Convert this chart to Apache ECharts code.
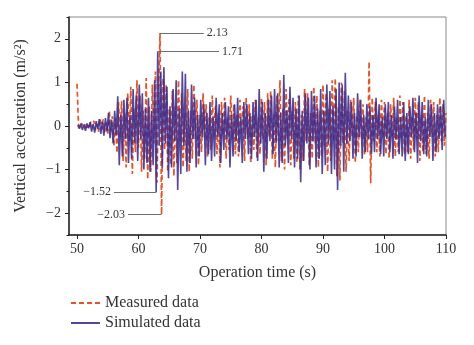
<!DOCTYPE html>
<html>
<head>
<meta charset="utf-8">
<script src="https://cdn.jsdelivr.net/npm/echarts@6/dist/echarts.min.js"></script>
<style>
  html, body { margin: 0; padding: 0; background: #fff; }
  #chart { width: 474px; height: 345px; }
</style>
</head>
<body>
<div id="chart"></div>
<script>
// Sampling of both records: start times and step (s)
const measuredStart = 50;
const simulatedStart = 50.125;
const tStep = 0.25;

// Measured vertical acceleration (m/s^2), one value per step
const measured = [
  0.97, 0.03, -0.05, 0.06, -0.02, 0.04, -0.08, 0.01,
  -0.06, 0.10, -0.03, 0.12, -0.10, 0.04, -0.13, 0.18,
  -0.08, 0.15, -0.14, 0.08, -0.20, 0.35, -0.12, 0.22,
  -0.45, 0.18, -0.62, 0.55, -0.25, 0.58, -0.80, 0.30,
  -0.95, 0.75, -0.35, 0.90, -1.10, 0.40, -0.60, 1.05,
  -0.50, 0.70, -1.05, 0.35, -0.75, 1.10, -1.22, 0.45,
  -1.05, 0.95, -0.40, 1.25, -1.30, 0.60, 2.13, -2.03,
  1.10, -0.55, 0.95, -1.05, 0.40, -0.90, 0.80, -1.15,
  0.45, -0.85, 1.05, -0.35, 0.75, -0.95, 0.30, -0.80,
  0.85, -1.05, 0.35, -0.75, 0.95, -0.30, 0.60, -0.90,
  0.25, -0.60, 0.75, -0.30, 0.50, -0.70, 0.20, -0.55,
  0.70, -0.25, 0.45, -0.65, 0.30, -0.95, 0.55, -0.20,
  0.65, -0.75, 0.20, -0.55, 0.70, -0.30, 0.50, -0.65,
  0.25, -0.70, 0.60, -0.20, 0.45, -0.80, 0.65, -0.30,
  0.50, -0.85, 0.25, -0.55, 0.60, -0.75, 0.20, -0.65,
  0.65, -0.30, 0.55, -0.90, 0.75, -0.25, 0.80, -0.75,
  0.30, -0.95, 0.70, -0.35, 1.05, -0.80, 0.40, -1.00,
  0.85, -0.30, 0.65, -0.90, 0.35, -0.75, 0.55, -0.85,
  0.70, -1.00, 0.25, -0.80, 0.85, -0.35, 0.75, -0.90,
  0.30, -0.75, 0.90, -0.40, 0.70, -0.95, 0.35, -0.70,
  0.95, -0.45, 0.75, -1.05, 0.40, -0.80, 1.05, -0.35,
  1.10, -1.15, 0.45, -1.25, 1.00, -0.40, 0.80, -1.05,
  0.35, -0.80, 0.60, -0.25, 0.65, -0.85, 0.25, -0.60,
  0.60, -0.30, 0.50, -0.65, 0.20, -0.60, 1.48, -1.31,
  0.65, -0.35, 0.55, -0.60, 0.25, -0.70, 0.60, -0.25,
  0.55, -0.65, 0.30, -0.75, 0.50, -0.25, 0.65, -0.70,
  0.20, -0.60, 0.70, -0.30, 0.55, -0.65, 0.25, -0.60,
  0.60, -0.75, 0.20, -0.55, 0.65, -0.30, 0.55, -0.80,
  0.25, -0.60, 0.70, -0.65, 0.30, -0.75, 0.60, -0.25,
  0.55, -0.70, 0.25, -0.60, 0.65, -0.35, 0.50, -0.45,
  0.30
];

// Simulated vertical acceleration (m/s^2), same step, offset start
const simulated = [
  0.02, -0.06, 0.05, -0.09, 0.03, -0.11, 0.06, -0.05,
  0.09, -0.13, 0.04, -0.15, 0.11, -0.07, 0.16, -0.18,
  0.10, -0.22, 0.18, -0.12, 0.30, -0.28, 0.15, -0.40,
  0.35, -0.20, 0.68, -0.90, 0.25, -0.70, 0.60, -0.30,
  0.65, -0.85, 0.25, -0.75, 0.85, -0.40, 0.70, -0.80,
  0.95, -0.30, 0.75, -1.00, 0.40, -0.85, 0.65, -1.05,
  0.35, -0.90, 1.05, -1.52, 1.71, -0.45, 1.25, -0.95,
  1.35, -0.40, 0.90, -1.20, 0.45, -0.95, 0.85, -0.35,
  1.05, -1.47, 0.40, -1.10, 1.25, -0.45, 1.20, -1.05,
  0.35, -0.85, 0.95, -0.30, 0.65, -0.95, 0.25, -0.70,
  0.60, -0.25, 0.50, -0.90, 0.30, -0.65, 0.55, -0.80,
  0.20, -0.70, 0.65, -0.25, 0.50, -0.85, 0.30, -0.55,
  0.55, -0.30, 0.45, -0.95, 0.25, -0.70, 0.50, -0.35,
  0.65, -0.60, 0.20, -0.85, 0.55, -0.30, 0.50, -0.65,
  0.30, -0.75, 0.55, -0.25, 0.60, -0.80, 0.85, -0.40,
  0.55, -1.05, 0.30, -0.75, 0.60, -0.35, 0.70, -0.65,
  0.85, -0.40, 0.75, -0.95, 0.30, -0.85, 1.17, -0.45,
  0.35, -0.85, 0.90, -0.30, 0.65, -0.95, 0.40, -0.75,
  0.70, -1.29, 0.35, -0.80, 0.75, -0.40, 0.65, -1.00,
  0.80, -0.35, 0.70, -0.95, 0.40, -0.75, 0.85, -1.10,
  0.35, -0.90, 0.95, -0.40, 0.80, -1.10, 0.45, -1.00,
  0.85, -1.47, 1.00, -0.45, 0.95, -1.05, 1.22, -0.40,
  0.70, -0.35, 0.55, -0.75, 0.30, -0.70, 0.75, -0.25,
  0.60, -0.75, 0.25, -0.60, 0.50, -0.30, 0.45, -0.65,
  0.25, -0.60, 0.65, -0.30, 0.50, -0.65, 0.20, -0.70,
  0.50, -0.30, 0.55, -0.60, 0.25, -0.75, 0.45, -0.30,
  0.60, -0.65, 0.20, -0.70, 0.55, -0.80, 0.30, -0.65,
  0.45, -0.25, 0.65, -0.60, 0.30, -0.85, 0.70, -0.35,
  0.55, -0.65, 0.20, -0.70, 0.60, -0.25, 0.50, -0.80,
  0.30, -0.60, 0.50, -0.30, 0.45, -0.55, 0.60, -0.25
];

// Axis ticks
const xMajorTicks = [50, 60, 70, 80, 90, 100, 110];
const xMinorTicks = [55, 65, 75, 85, 95, 105];
const yMajorTicks = [-2, -1, 0, 1, 2];
const yMinorTicks = [-2.5, -1.5, -0.5, 0.5, 1.5, 2.5];

// Peak call-outs: sample index in its series and where the leader line ends (s)
const measuredPeaks = [
  { index: 54, lineEnd: 70.6 },
  { index: 55, lineEnd: 58.3 }
];
const simulatedPeaks = [
  { index: 52, lineEnd: 73.1 },
  { index: 51, lineEnd: 56.0 }
];

const toPairs = (arr, t0) => arr.map((v, i) => [t0 + i * tStep, v]);
const fmt = v => (v < 0 ? '\u2212' + Math.abs(v) : String(v));

const serif = '"Liberation Serif", "DejaVu Serif", serif';
const textColor = '#333';
const orange = '#e2542a';
const blue = '#3a2c90';

function calloutLines(arr, t0, peaks) {
  return peaks.map(p => {
    const t = t0 + p.index * tStep;
    const v = arr[p.index];
    return [
      { coord: [t, v], value: v },
      { coord: [p.lineEnd, v], label: { formatter: () => fmt(v) } }
    ];
  });
}

const markLineStyle = {
  silent: true,
  symbol: ['none', 'none'],
  animation: false,
  lineStyle: { color: '#6e6e6e', width: 1, type: 'solid' },
  label: {
    show: true, position: 'end', distance: 3,
    color: textColor, fontFamily: serif, fontSize: 12
  },
  emphasis: { disabled: true }
};

const chart = echarts.init(document.getElementById('chart'), null, { renderer: 'canvas' });

chart.setOption({
  animation: false,
  backgroundColor: '#fff',
  grid: {
    left: 69, right: 28, top: 17, bottom: 110,
    show: true, borderColor: '#8a8a8a', borderWidth: 1
  },
  legend: {
    orient: 'vertical',
    left: 65, top: 290,
    itemWidth: 29, itemHeight: 10, itemGap: 4,
    itemStyle: { opacity: 0 },
    textStyle: { fontFamily: serif, fontSize: 16, color: textColor },
    data: ['Measured data', 'Simulated data']
  },
  xAxis: [
    {
      type: 'value', min: 48.7, max: 110,
      name: 'Operation time (s)', nameLocation: 'middle', nameGap: 30,
      nameTextStyle: { fontFamily: serif, fontSize: 16, color: textColor },
      axisLine: { show: true, onZero: false, lineStyle: { color: '#222', width: 1.5 } },
      axisTick: { show: true, length: 4, customValues: xMajorTicks, lineStyle: { color: '#222' } },
      axisLabel: {
        customValues: xMajorTicks, margin: 7,
        fontFamily: serif, fontSize: 14, color: textColor
      },
      splitLine: { show: false }
    },
    {
      type: 'value', min: 48.7, max: 110, position: 'bottom',
      axisLine: { show: false },
      axisTick: { show: true, length: 2.5, customValues: xMinorTicks, lineStyle: { color: '#222' } },
      axisLabel: { show: false },
      splitLine: { show: false }
    }
  ],
  yAxis: [
    {
      type: 'value', min: -2.5, max: 2.5,
      name: 'Vertical acceleration (m/s\u00B2)', nameLocation: 'middle', nameGap: 40,
      nameTextStyle: { fontFamily: serif, fontSize: 16, color: textColor },
      axisLine: { show: true, onZero: false, lineStyle: { color: '#222', width: 1.5 } },
      axisTick: { show: true, length: 4, customValues: yMajorTicks, lineStyle: { color: '#222' } },
      axisLabel: {
        customValues: yMajorTicks, margin: 8,
        fontFamily: serif, fontSize: 14, color: textColor,
        formatter: v => fmt(v)
      },
      splitLine: { show: false }
    },
    {
      type: 'value', min: -2.5, max: 2.5, position: 'left',
      axisLine: { show: false },
      axisTick: { show: true, length: 2.5, customValues: yMinorTicks, lineStyle: { color: '#222' } },
      axisLabel: { show: false },
      splitLine: { show: false }
    }
  ],
  series: [
    {
      name: 'Measured data',
      type: 'line',
      data: toPairs(measured, measuredStart),
      symbol: 'none',
      color: orange,
      lineStyle: { color: orange, width: 1.7, type: [5, 3] },
      markLine: Object.assign({ data: calloutLines(measured, measuredStart, measuredPeaks) }, markLineStyle),
      z: 2
    },
    {
      name: 'Simulated data',
      type: 'line',
      data: toPairs(simulated, simulatedStart),
      symbol: 'none',
      color: blue,
      lineStyle: { color: blue, width: 1.6, opacity: 0.88 },
      markLine: Object.assign({ data: calloutLines(simulated, simulatedStart, simulatedPeaks) }, markLineStyle),
      z: 3
    }
  ]
});
</script>
</body>
</html>
